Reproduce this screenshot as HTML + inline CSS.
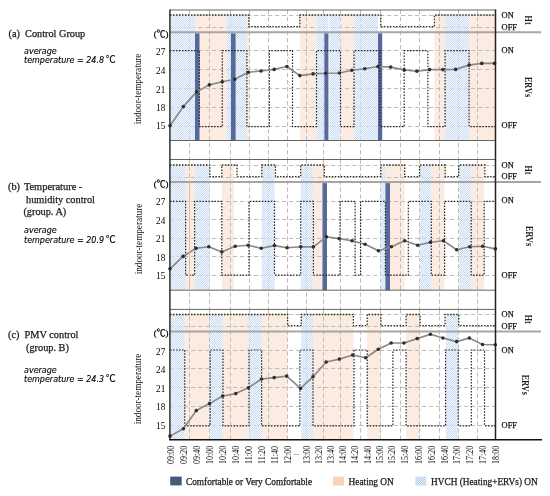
<!DOCTYPE html>
<html><head><meta charset="utf-8"><title>chart</title>
<style>html,body{margin:0;padding:0;background:#fff}body{width:550px;height:496px;position:relative;overflow:hidden}</style>
</head><body>
<svg width="550" height="496" viewBox="0 0 550 496" style="position:absolute;left:0;top:0">
<defs>
<pattern id="hatch" patternUnits="userSpaceOnUse" width="1.56" height="1.56" patternTransform="rotate(-45)">
<rect x="0" y="0" width="1.56" height="1.56" fill="#fbfdff"/>
<rect x="0" y="0" width="1.56" height="0.72" fill="#9fbfe8"/>
</pattern>
<pattern id="hatch2" patternUnits="userSpaceOnUse" width="1.56" height="1.56" patternTransform="rotate(-45)">
<rect x="0" y="0" width="1.56" height="1.56" fill="#fbfdff"/>
<rect x="0" y="0" width="1.56" height="0.72" fill="#7fa3da"/>
</pattern>
</defs>
<rect x="0" y="0" width="550" height="496" fill="#fff"/>
<defs><clipPath id="hclip"><rect x="170.0" y="15.0" width="25.0" height="125.5"/><rect x="226.5" y="15.0" width="20.5" height="125.5"/><rect x="316.5" y="15.0" width="11.9" height="125.5"/><rect x="329.4" y="15.0" width="11.1" height="125.5"/><rect x="354.0" y="15.0" width="24.0" height="125.5"/><rect x="445.1" y="15.0" width="24.0" height="125.5"/><rect x="170.0" y="165.0" width="15.6" height="125.2"/><rect x="194.6" y="165.0" width="15.2" height="125.2"/><rect x="261.8" y="165.0" width="12.7" height="125.2"/><rect x="300.7" y="165.0" width="12.1" height="125.2"/><rect x="380.8" y="165.0" width="4.6" height="125.2"/><rect x="419.8" y="165.0" width="11.5" height="125.2"/><rect x="459.1" y="165.0" width="12.1" height="125.2"/><rect x="170.0" y="314.5" width="14.7" height="125.4"/><rect x="210.2" y="314.5" width="12.4" height="125.4"/><rect x="249.0" y="314.5" width="12.6" height="125.4"/><rect x="301.3" y="314.5" width="11.7" height="125.4"/><rect x="445.9" y="314.5" width="12.3" height="125.4"/></clipPath><clipPath id="lclip"><rect x="415.3" y="476.5" width="11" height="9"/></clipPath></defs>
<rect x="195.0" y="15.0" width="31.5" height="125.5" fill="#fcebe0"/>
<rect x="247.0" y="15.0" width="2.5" height="125.5" fill="#fcebe0"/>
<rect x="299.8" y="15.0" width="16.7" height="125.5" fill="#fcebe0"/>
<rect x="340.5" y="15.0" width="13.5" height="125.5" fill="#fcebe0"/>
<rect x="434.4" y="15.0" width="10.7" height="125.5" fill="#fcebe0"/>
<rect x="469.1" y="15.0" width="26.4" height="125.5" fill="#fcebe0"/>
<line x1="170.0" x2="495.5" y1="15.5" y2="15.5" stroke="#bdbdbd" stroke-width="1" stroke-dasharray="4.3 2.7"/>
<line x1="170.0" x2="495.5" y1="27.5" y2="27.5" stroke="#bdbdbd" stroke-width="1" stroke-dasharray="4.3 2.7"/>
<line x1="170.0" x2="495.5" y1="50.5" y2="50.5" stroke="#bdbdbd" stroke-width="1" stroke-dasharray="4.3 2.7"/>
<line x1="170.0" x2="495.5" y1="69.5" y2="69.5" stroke="#bdbdbd" stroke-width="1" stroke-dasharray="4.3 2.7"/>
<line x1="170.0" x2="495.5" y1="88.5" y2="88.5" stroke="#bdbdbd" stroke-width="1" stroke-dasharray="4.3 2.7"/>
<line x1="170.0" x2="495.5" y1="107.5" y2="107.5" stroke="#bdbdbd" stroke-width="1" stroke-dasharray="4.3 2.7"/>
<line x1="170.0" x2="495.5" y1="126.5" y2="126.5" stroke="#bdbdbd" stroke-width="1" stroke-dasharray="4.3 2.7"/>
<line x1="189.5" x2="189.5" y1="10.0" y2="159.5" stroke="#bdbdbd" stroke-width="1" stroke-dasharray="4.3 2.7"/>
<line x1="209.5" x2="209.5" y1="10.0" y2="159.5" stroke="#bdbdbd" stroke-width="1" stroke-dasharray="4.3 2.7"/>
<line x1="230.5" x2="230.5" y1="10.0" y2="159.5" stroke="#bdbdbd" stroke-width="1" stroke-dasharray="4.3 2.7"/>
<line x1="249.5" x2="249.5" y1="10.0" y2="159.5" stroke="#bdbdbd" stroke-width="1" stroke-dasharray="4.3 2.7"/>
<line x1="268.5" x2="268.5" y1="10.0" y2="159.5" stroke="#bdbdbd" stroke-width="1" stroke-dasharray="4.3 2.7"/>
<line x1="287.5" x2="287.5" y1="10.0" y2="159.5" stroke="#bdbdbd" stroke-width="1" stroke-dasharray="4.3 2.7"/>
<line x1="306.5" x2="306.5" y1="10.0" y2="159.5" stroke="#bdbdbd" stroke-width="1" stroke-dasharray="4.3 2.7"/>
<line x1="323.5" x2="323.5" y1="10.0" y2="159.5" stroke="#bdbdbd" stroke-width="1" stroke-dasharray="4.3 2.7"/>
<line x1="340.5" x2="340.5" y1="10.0" y2="159.5" stroke="#bdbdbd" stroke-width="1" stroke-dasharray="4.3 2.7"/>
<line x1="360.5" x2="360.5" y1="10.0" y2="159.5" stroke="#bdbdbd" stroke-width="1" stroke-dasharray="4.3 2.7"/>
<line x1="380.5" x2="380.5" y1="10.0" y2="159.5" stroke="#bdbdbd" stroke-width="1" stroke-dasharray="4.3 2.7"/>
<line x1="400.5" x2="400.5" y1="10.0" y2="159.5" stroke="#bdbdbd" stroke-width="1" stroke-dasharray="4.3 2.7"/>
<line x1="419.5" x2="419.5" y1="10.0" y2="159.5" stroke="#bdbdbd" stroke-width="1" stroke-dasharray="4.3 2.7"/>
<line x1="439.5" x2="439.5" y1="10.0" y2="159.5" stroke="#bdbdbd" stroke-width="1" stroke-dasharray="4.3 2.7"/>
<line x1="458.5" x2="458.5" y1="10.0" y2="159.5" stroke="#bdbdbd" stroke-width="1" stroke-dasharray="4.3 2.7"/>
<line x1="477.5" x2="477.5" y1="10.0" y2="159.5" stroke="#bdbdbd" stroke-width="1" stroke-dasharray="4.3 2.7"/>
<rect x="185.6" y="165.0" width="9.0" height="125.2" fill="#fcebe0"/>
<rect x="221.8" y="165.0" width="12.1" height="125.2" fill="#fcebe0"/>
<rect x="312.8" y="165.0" width="11.5" height="125.2" fill="#fcebe0"/>
<rect x="385.4" y="165.0" width="19.3" height="125.2" fill="#fcebe0"/>
<rect x="431.3" y="165.0" width="13.3" height="125.2" fill="#fcebe0"/>
<rect x="471.2" y="165.0" width="13.0" height="125.2" fill="#fcebe0"/>
<line x1="170.0" x2="495.5" y1="165.5" y2="165.5" stroke="#bdbdbd" stroke-width="1" stroke-dasharray="4.3 2.7"/>
<line x1="170.0" x2="495.5" y1="177.5" y2="177.5" stroke="#bdbdbd" stroke-width="1" stroke-dasharray="4.3 2.7"/>
<line x1="170.0" x2="495.5" y1="201.5" y2="201.5" stroke="#bdbdbd" stroke-width="1" stroke-dasharray="4.3 2.7"/>
<line x1="170.0" x2="495.5" y1="219.5" y2="219.5" stroke="#bdbdbd" stroke-width="1" stroke-dasharray="4.3 2.7"/>
<line x1="170.0" x2="495.5" y1="238.5" y2="238.5" stroke="#bdbdbd" stroke-width="1" stroke-dasharray="4.3 2.7"/>
<line x1="170.0" x2="495.5" y1="256.5" y2="256.5" stroke="#bdbdbd" stroke-width="1" stroke-dasharray="4.3 2.7"/>
<line x1="170.0" x2="495.5" y1="275.5" y2="275.5" stroke="#bdbdbd" stroke-width="1" stroke-dasharray="4.3 2.7"/>
<line x1="189.5" x2="189.5" y1="159.5" y2="309.4" stroke="#bdbdbd" stroke-width="1" stroke-dasharray="4.3 2.7"/>
<line x1="209.5" x2="209.5" y1="159.5" y2="309.4" stroke="#bdbdbd" stroke-width="1" stroke-dasharray="4.3 2.7"/>
<line x1="230.5" x2="230.5" y1="159.5" y2="309.4" stroke="#bdbdbd" stroke-width="1" stroke-dasharray="4.3 2.7"/>
<line x1="249.5" x2="249.5" y1="159.5" y2="309.4" stroke="#bdbdbd" stroke-width="1" stroke-dasharray="4.3 2.7"/>
<line x1="268.5" x2="268.5" y1="159.5" y2="309.4" stroke="#bdbdbd" stroke-width="1" stroke-dasharray="4.3 2.7"/>
<line x1="287.5" x2="287.5" y1="159.5" y2="309.4" stroke="#bdbdbd" stroke-width="1" stroke-dasharray="4.3 2.7"/>
<line x1="306.5" x2="306.5" y1="159.5" y2="309.4" stroke="#bdbdbd" stroke-width="1" stroke-dasharray="4.3 2.7"/>
<line x1="323.5" x2="323.5" y1="159.5" y2="309.4" stroke="#bdbdbd" stroke-width="1" stroke-dasharray="4.3 2.7"/>
<line x1="340.5" x2="340.5" y1="159.5" y2="309.4" stroke="#bdbdbd" stroke-width="1" stroke-dasharray="4.3 2.7"/>
<line x1="360.5" x2="360.5" y1="159.5" y2="309.4" stroke="#bdbdbd" stroke-width="1" stroke-dasharray="4.3 2.7"/>
<line x1="380.5" x2="380.5" y1="159.5" y2="309.4" stroke="#bdbdbd" stroke-width="1" stroke-dasharray="4.3 2.7"/>
<line x1="400.5" x2="400.5" y1="159.5" y2="309.4" stroke="#bdbdbd" stroke-width="1" stroke-dasharray="4.3 2.7"/>
<line x1="419.5" x2="419.5" y1="159.5" y2="309.4" stroke="#bdbdbd" stroke-width="1" stroke-dasharray="4.3 2.7"/>
<line x1="439.5" x2="439.5" y1="159.5" y2="309.4" stroke="#bdbdbd" stroke-width="1" stroke-dasharray="4.3 2.7"/>
<line x1="458.5" x2="458.5" y1="159.5" y2="309.4" stroke="#bdbdbd" stroke-width="1" stroke-dasharray="4.3 2.7"/>
<line x1="477.5" x2="477.5" y1="159.5" y2="309.4" stroke="#bdbdbd" stroke-width="1" stroke-dasharray="4.3 2.7"/>
<rect x="184.7" y="314.5" width="25.5" height="125.4" fill="#fcebe0"/>
<rect x="222.6" y="314.5" width="26.4" height="125.4" fill="#fcebe0"/>
<rect x="261.6" y="314.5" width="26.0" height="125.4" fill="#fcebe0"/>
<rect x="313.0" y="314.5" width="40.4" height="125.4" fill="#fcebe0"/>
<rect x="367.2" y="314.5" width="13.7" height="125.4" fill="#fcebe0"/>
<rect x="406.1" y="314.5" width="14.0" height="125.4" fill="#fcebe0"/>
<line x1="170.0" x2="495.5" y1="314.5" y2="314.5" stroke="#bdbdbd" stroke-width="1" stroke-dasharray="4.3 2.7"/>
<line x1="170.0" x2="495.5" y1="326.5" y2="326.5" stroke="#bdbdbd" stroke-width="1" stroke-dasharray="4.3 2.7"/>
<line x1="170.0" x2="495.5" y1="350.5" y2="350.5" stroke="#bdbdbd" stroke-width="1" stroke-dasharray="4.3 2.7"/>
<line x1="170.0" x2="495.5" y1="368.5" y2="368.5" stroke="#bdbdbd" stroke-width="1" stroke-dasharray="4.3 2.7"/>
<line x1="170.0" x2="495.5" y1="387.5" y2="387.5" stroke="#bdbdbd" stroke-width="1" stroke-dasharray="4.3 2.7"/>
<line x1="170.0" x2="495.5" y1="406.5" y2="406.5" stroke="#bdbdbd" stroke-width="1" stroke-dasharray="4.3 2.7"/>
<line x1="170.0" x2="495.5" y1="425.5" y2="425.5" stroke="#bdbdbd" stroke-width="1" stroke-dasharray="4.3 2.7"/>
<line x1="189.5" x2="189.5" y1="309.4" y2="439.9" stroke="#bdbdbd" stroke-width="1" stroke-dasharray="4.3 2.7"/>
<line x1="209.5" x2="209.5" y1="309.4" y2="439.9" stroke="#bdbdbd" stroke-width="1" stroke-dasharray="4.3 2.7"/>
<line x1="230.5" x2="230.5" y1="309.4" y2="439.9" stroke="#bdbdbd" stroke-width="1" stroke-dasharray="4.3 2.7"/>
<line x1="249.5" x2="249.5" y1="309.4" y2="439.9" stroke="#bdbdbd" stroke-width="1" stroke-dasharray="4.3 2.7"/>
<line x1="268.5" x2="268.5" y1="309.4" y2="439.9" stroke="#bdbdbd" stroke-width="1" stroke-dasharray="4.3 2.7"/>
<line x1="287.5" x2="287.5" y1="309.4" y2="439.9" stroke="#bdbdbd" stroke-width="1" stroke-dasharray="4.3 2.7"/>
<line x1="306.5" x2="306.5" y1="309.4" y2="439.9" stroke="#bdbdbd" stroke-width="1" stroke-dasharray="4.3 2.7"/>
<line x1="323.5" x2="323.5" y1="309.4" y2="439.9" stroke="#bdbdbd" stroke-width="1" stroke-dasharray="4.3 2.7"/>
<line x1="340.5" x2="340.5" y1="309.4" y2="439.9" stroke="#bdbdbd" stroke-width="1" stroke-dasharray="4.3 2.7"/>
<line x1="360.5" x2="360.5" y1="309.4" y2="439.9" stroke="#bdbdbd" stroke-width="1" stroke-dasharray="4.3 2.7"/>
<line x1="380.5" x2="380.5" y1="309.4" y2="439.9" stroke="#bdbdbd" stroke-width="1" stroke-dasharray="4.3 2.7"/>
<line x1="400.5" x2="400.5" y1="309.4" y2="439.9" stroke="#bdbdbd" stroke-width="1" stroke-dasharray="4.3 2.7"/>
<line x1="419.5" x2="419.5" y1="309.4" y2="439.9" stroke="#bdbdbd" stroke-width="1" stroke-dasharray="4.3 2.7"/>
<line x1="439.5" x2="439.5" y1="309.4" y2="439.9" stroke="#bdbdbd" stroke-width="1" stroke-dasharray="4.3 2.7"/>
<line x1="458.5" x2="458.5" y1="309.4" y2="439.9" stroke="#bdbdbd" stroke-width="1" stroke-dasharray="4.3 2.7"/>
<line x1="477.5" x2="477.5" y1="309.4" y2="439.9" stroke="#bdbdbd" stroke-width="1" stroke-dasharray="4.3 2.7"/>
<g clip-path="url(#hclip)"><rect x="169" y="10" width="328" height="480" fill="#fcfdff" fill-opacity="0.6"/><path d="M-314.0,490l482,-482M-311.8,490l482,-482M-309.6,490l482,-482M-307.4,490l482,-482M-305.2,490l482,-482M-303.0,490l482,-482M-300.8,490l482,-482M-298.6,490l482,-482M-296.4,490l482,-482M-294.2,490l482,-482M-292.0,490l482,-482M-289.8,490l482,-482M-287.6,490l482,-482M-285.4,490l482,-482M-283.2,490l482,-482M-281.0,490l482,-482M-278.8,490l482,-482M-276.6,490l482,-482M-274.4,490l482,-482M-272.2,490l482,-482M-270.0,490l482,-482M-267.8,490l482,-482M-265.6,490l482,-482M-263.4,490l482,-482M-261.2,490l482,-482M-259.0,490l482,-482M-256.8,490l482,-482M-254.6,490l482,-482M-252.4,490l482,-482M-250.2,490l482,-482M-248.0,490l482,-482M-245.8,490l482,-482M-243.6,490l482,-482M-241.4,490l482,-482M-239.2,490l482,-482M-237.0,490l482,-482M-234.8,490l482,-482M-232.6,490l482,-482M-230.4,490l482,-482M-228.2,490l482,-482M-226.0,490l482,-482M-223.8,490l482,-482M-221.6,490l482,-482M-219.4,490l482,-482M-217.2,490l482,-482M-215.0,490l482,-482M-212.8,490l482,-482M-210.6,490l482,-482M-208.4,490l482,-482M-206.2,490l482,-482M-204.0,490l482,-482M-201.8,490l482,-482M-199.6,490l482,-482M-197.4,490l482,-482M-195.2,490l482,-482M-193.0,490l482,-482M-190.8,490l482,-482M-188.6,490l482,-482M-186.4,490l482,-482M-184.2,490l482,-482M-182.0,490l482,-482M-179.8,490l482,-482M-177.6,490l482,-482M-175.4,490l482,-482M-173.2,490l482,-482M-171.0,490l482,-482M-168.8,490l482,-482M-166.6,490l482,-482M-164.4,490l482,-482M-162.2,490l482,-482M-160.0,490l482,-482M-157.8,490l482,-482M-155.6,490l482,-482M-153.4,490l482,-482M-151.2,490l482,-482M-149.0,490l482,-482M-146.8,490l482,-482M-144.6,490l482,-482M-142.4,490l482,-482M-140.2,490l482,-482M-138.0,490l482,-482M-135.8,490l482,-482M-133.6,490l482,-482M-131.4,490l482,-482M-129.2,490l482,-482M-127.0,490l482,-482M-124.8,490l482,-482M-122.6,490l482,-482M-120.4,490l482,-482M-118.2,490l482,-482M-116.0,490l482,-482M-113.8,490l482,-482M-111.6,490l482,-482M-109.4,490l482,-482M-107.2,490l482,-482M-105.0,490l482,-482M-102.8,490l482,-482M-100.6,490l482,-482M-98.4,490l482,-482M-96.2,490l482,-482M-94.0,490l482,-482M-91.8,490l482,-482M-89.6,490l482,-482M-87.4,490l482,-482M-85.2,490l482,-482M-83.0,490l482,-482M-80.8,490l482,-482M-78.6,490l482,-482M-76.4,490l482,-482M-74.2,490l482,-482M-72.0,490l482,-482M-69.8,490l482,-482M-67.6,490l482,-482M-65.4,490l482,-482M-63.2,490l482,-482M-61.0,490l482,-482M-58.8,490l482,-482M-56.6,490l482,-482M-54.4,490l482,-482M-52.2,490l482,-482M-50.0,490l482,-482M-47.8,490l482,-482M-45.6,490l482,-482M-43.4,490l482,-482M-41.2,490l482,-482M-39.0,490l482,-482M-36.8,490l482,-482M-34.6,490l482,-482M-32.4,490l482,-482M-30.2,490l482,-482M-28.0,490l482,-482M-25.8,490l482,-482M-23.6,490l482,-482M-21.4,490l482,-482M-19.2,490l482,-482M-17.0,490l482,-482M-14.8,490l482,-482M-12.6,490l482,-482M-10.4,490l482,-482M-8.2,490l482,-482M-6.0,490l482,-482M-3.8,490l482,-482M-1.6,490l482,-482M0.6,490l482,-482M2.8,490l482,-482M5.0,490l482,-482M7.2,490l482,-482M9.4,490l482,-482M11.6,490l482,-482M13.8,490l482,-482M16.0,490l482,-482M18.2,490l482,-482M20.4,490l482,-482M22.6,490l482,-482M24.8,490l482,-482M27.0,490l482,-482M29.2,490l482,-482M31.4,490l482,-482M33.6,490l482,-482M35.8,490l482,-482M38.0,490l482,-482M40.2,490l482,-482M42.4,490l482,-482M44.6,490l482,-482M46.8,490l482,-482M49.0,490l482,-482M51.2,490l482,-482M53.4,490l482,-482M55.6,490l482,-482M57.8,490l482,-482M60.0,490l482,-482M62.2,490l482,-482M64.4,490l482,-482M66.6,490l482,-482M68.8,490l482,-482M71.0,490l482,-482M73.2,490l482,-482M75.4,490l482,-482M77.6,490l482,-482M79.8,490l482,-482M82.0,490l482,-482M84.2,490l482,-482M86.4,490l482,-482M88.6,490l482,-482M90.8,490l482,-482M93.0,490l482,-482M95.2,490l482,-482M97.4,490l482,-482M99.6,490l482,-482M101.8,490l482,-482M104.0,490l482,-482M106.2,490l482,-482M108.4,490l482,-482M110.6,490l482,-482M112.8,490l482,-482M115.0,490l482,-482M117.2,490l482,-482M119.4,490l482,-482M121.6,490l482,-482M123.8,490l482,-482M126.0,490l482,-482M128.2,490l482,-482M130.4,490l482,-482M132.6,490l482,-482M134.8,490l482,-482M137.0,490l482,-482M139.2,490l482,-482M141.4,490l482,-482M143.6,490l482,-482M145.8,490l482,-482M148.0,490l482,-482M150.2,490l482,-482M152.4,490l482,-482M154.6,490l482,-482M156.8,490l482,-482M159.0,490l482,-482M161.2,490l482,-482M163.4,490l482,-482M165.6,490l482,-482M167.8,490l482,-482M170.0,490l482,-482M172.2,490l482,-482M174.4,490l482,-482M176.6,490l482,-482M178.8,490l482,-482M181.0,490l482,-482M183.2,490l482,-482M185.4,490l482,-482M187.6,490l482,-482M189.8,490l482,-482M192.0,490l482,-482M194.2,490l482,-482M196.4,490l482,-482M198.6,490l482,-482M200.8,490l482,-482M203.0,490l482,-482M205.2,490l482,-482M207.4,490l482,-482M209.6,490l482,-482M211.8,490l482,-482M214.0,490l482,-482M216.2,490l482,-482M218.4,490l482,-482M220.6,490l482,-482M222.8,490l482,-482M225.0,490l482,-482M227.2,490l482,-482M229.4,490l482,-482M231.6,490l482,-482M233.8,490l482,-482M236.0,490l482,-482M238.2,490l482,-482M240.4,490l482,-482M242.6,490l482,-482M244.8,490l482,-482M247.0,490l482,-482M249.2,490l482,-482M251.4,490l482,-482M253.6,490l482,-482M255.8,490l482,-482M258.0,490l482,-482M260.2,490l482,-482M262.4,490l482,-482M264.6,490l482,-482M266.8,490l482,-482M269.0,490l482,-482M271.2,490l482,-482M273.4,490l482,-482M275.6,490l482,-482M277.8,490l482,-482M280.0,490l482,-482M282.2,490l482,-482M284.4,490l482,-482M286.6,490l482,-482M288.8,490l482,-482M291.0,490l482,-482M293.2,490l482,-482M295.4,490l482,-482M297.6,490l482,-482M299.8,490l482,-482M302.0,490l482,-482M304.2,490l482,-482M306.4,490l482,-482M308.6,490l482,-482M310.8,490l482,-482M313.0,490l482,-482M315.2,490l482,-482M317.4,490l482,-482M319.6,490l482,-482M321.8,490l482,-482M324.0,490l482,-482M326.2,490l482,-482M328.4,490l482,-482M330.6,490l482,-482M332.8,490l482,-482M335.0,490l482,-482M337.2,490l482,-482M339.4,490l482,-482M341.6,490l482,-482M343.8,490l482,-482M346.0,490l482,-482M348.2,490l482,-482M350.4,490l482,-482M352.6,490l482,-482M354.8,490l482,-482M357.0,490l482,-482M359.2,490l482,-482M361.4,490l482,-482M363.6,490l482,-482M365.8,490l482,-482M368.0,490l482,-482M370.2,490l482,-482M372.4,490l482,-482M374.6,490l482,-482M376.8,490l482,-482M379.0,490l482,-482M381.2,490l482,-482M383.4,490l482,-482M385.6,490l482,-482M387.8,490l482,-482M390.0,490l482,-482M392.2,490l482,-482M394.4,490l482,-482M396.6,490l482,-482M398.8,490l482,-482M401.0,490l482,-482M403.2,490l482,-482M405.4,490l482,-482M407.6,490l482,-482M409.8,490l482,-482M412.0,490l482,-482M414.2,490l482,-482M416.4,490l482,-482M418.6,490l482,-482M420.8,490l482,-482M423.0,490l482,-482M425.2,490l482,-482M427.4,490l482,-482M429.6,490l482,-482M431.8,490l482,-482M434.0,490l482,-482M436.2,490l482,-482M438.4,490l482,-482M440.6,490l482,-482M442.8,490l482,-482M445.0,490l482,-482M447.2,490l482,-482M449.4,490l482,-482M451.6,490l482,-482M453.8,490l482,-482M456.0,490l482,-482M458.2,490l482,-482M460.4,490l482,-482M462.6,490l482,-482M464.8,490l482,-482M467.0,490l482,-482M469.2,490l482,-482M471.4,490l482,-482M473.6,490l482,-482M475.8,490l482,-482M478.0,490l482,-482M480.2,490l482,-482M482.4,490l482,-482M484.6,490l482,-482M486.8,490l482,-482M489.0,490l482,-482M491.2,490l482,-482M493.4,490l482,-482M495.6,490l482,-482M497.8,490l482,-482M500.0,490l482,-482" stroke="#a0c0ea" stroke-width="0.7" fill="none"/></g>
<rect x="195.0" y="33.3" width="4.5" height="107.2" fill="#55699c"/>
<rect x="231.0" y="33.3" width="4.6" height="107.2" fill="#55699c"/>
<rect x="324.4" y="33.3" width="4.0" height="107.2" fill="#55699c"/>
<rect x="378.0" y="33.3" width="4.2" height="107.2" fill="#55699c"/>
<line x1="170.0" x2="541" y1="32.3" y2="32.3" stroke="#a6a6a6" stroke-width="2"/>
<line x1="170.0" x2="495.5" y1="10.0" y2="10.0" stroke="#555" stroke-width="0.9"/>
<line x1="170.0" x2="495.5" y1="140.5" y2="140.5" stroke="#555" stroke-width="0.9"/>
<path d="M170.0,15.0 H248.8 V26.7 H299.8 V15.0 H380.8 V26.7 H434.4 V15.0 H495.5" fill="none" stroke="#2f2c0a" stroke-width="1.3" stroke-dasharray="1.5 1.5"/>
<path d="M170.0,50.7 H199.4 V126.6 H222.3 V50.7 H246.9 V126.6 H269.4 V50.7 H292.5 V126.6 H316.5 V50.7 H340.5 V126.6 H354.0 V50.7 H380.0 V126.6 H404.2 V50.7 H427.9 V126.6 H445.1 V50.7 H469.1 V126.6 H495.5" fill="none" stroke="#222" stroke-width="1.2" stroke-dasharray="1.5 1.5"/>
<polyline points="170.0,125.8 183.3,106.6 196.6,91.9 209.3,84.9 222.3,81.8 234.7,79.2 248.3,72.2 261.0,71.0 274.2,69.4 286.9,66.5 299.8,75.6 313.1,73.9 325.8,73.3 339.4,73.0 351.8,70.2 364.8,68.8 378.0,66.5 390.7,67.1 404.2,69.9 416.9,71.3 429.6,69.6 442.9,69.6 455.6,69.4 469.1,65.1 481.8,63.4 494.5,63.4" fill="none" stroke="#898989" stroke-width="1.65" stroke-linejoin="round"/>
<circle cx="170.0" cy="125.8" r="1.8" fill="#2e2e2e"/>
<circle cx="183.3" cy="106.6" r="1.8" fill="#2e2e2e"/>
<circle cx="196.6" cy="91.9" r="1.8" fill="#2e2e2e"/>
<circle cx="209.3" cy="84.9" r="1.8" fill="#2e2e2e"/>
<circle cx="222.3" cy="81.8" r="1.8" fill="#2e2e2e"/>
<circle cx="234.7" cy="79.2" r="1.8" fill="#2e2e2e"/>
<circle cx="248.3" cy="72.2" r="1.8" fill="#2e2e2e"/>
<circle cx="261.0" cy="71.0" r="1.8" fill="#2e2e2e"/>
<circle cx="274.2" cy="69.4" r="1.8" fill="#2e2e2e"/>
<circle cx="286.9" cy="66.5" r="1.8" fill="#2e2e2e"/>
<circle cx="299.8" cy="75.6" r="1.8" fill="#2e2e2e"/>
<circle cx="313.1" cy="73.9" r="1.8" fill="#2e2e2e"/>
<circle cx="325.8" cy="73.3" r="1.8" fill="#2e2e2e"/>
<circle cx="339.4" cy="73.0" r="1.8" fill="#2e2e2e"/>
<circle cx="351.8" cy="70.2" r="1.8" fill="#2e2e2e"/>
<circle cx="364.8" cy="68.8" r="1.8" fill="#2e2e2e"/>
<circle cx="378.0" cy="66.5" r="1.8" fill="#2e2e2e"/>
<circle cx="390.7" cy="67.1" r="1.8" fill="#2e2e2e"/>
<circle cx="404.2" cy="69.9" r="1.8" fill="#2e2e2e"/>
<circle cx="416.9" cy="71.3" r="1.8" fill="#2e2e2e"/>
<circle cx="429.6" cy="69.6" r="1.8" fill="#2e2e2e"/>
<circle cx="442.9" cy="69.6" r="1.8" fill="#2e2e2e"/>
<circle cx="455.6" cy="69.4" r="1.8" fill="#2e2e2e"/>
<circle cx="469.1" cy="65.1" r="1.8" fill="#2e2e2e"/>
<circle cx="481.8" cy="63.4" r="1.8" fill="#2e2e2e"/>
<circle cx="494.5" cy="63.4" r="1.8" fill="#2e2e2e"/>
<rect x="322.5" y="183.1" width="4.5" height="107.1" fill="#55699c"/>
<rect x="385.4" y="183.1" width="4.6" height="107.1" fill="#55699c"/>
<line x1="170.0" x2="541" y1="182.1" y2="182.1" stroke="#a6a6a6" stroke-width="2"/>
<line x1="170.0" x2="495.5" y1="159.5" y2="159.5" stroke="#555" stroke-width="0.9"/>
<line x1="170.0" x2="495.5" y1="290.2" y2="290.2" stroke="#555" stroke-width="0.9"/>
<path d="M170.0,165.0 H209.8 V176.6 H221.8 V165.0 H237.0 V176.6 H261.8 V165.0 H275.4 V176.6 H300.7 V165.0 H324.3 V176.6 H380.8 V165.0 H404.7 V176.6 H419.6 V165.0 H445.2 V176.6 H458.7 V165.0 H484.8 V176.6 H495.5" fill="none" stroke="#2f2c0a" stroke-width="1.3" stroke-dasharray="1.5 1.5"/>
<path d="M170.0,201.3 H185.6 V275.1 H194.6 V201.3 H221.8 V275.1 H249.0 V201.3 H274.5 V275.1 H300.7 V201.3 H313.4 V275.1 H340.0 V201.3 H355.1 V275.1 H360.6 V201.3 H385.4 V275.1 H408.3 V201.3 H431.3 V275.1 H444.6 V201.3 H471.2 V275.1 H484.2 V201.3 H495.5" fill="none" stroke="#222" stroke-width="1.2" stroke-dasharray="1.5 1.5"/>
<polyline points="170.0,268.8 183.1,256.4 196.1,248.3 208.8,246.8 221.8,251.9 235.2,246.2 248.2,245.3 261.2,248.3 274.5,245.6 287.1,247.7 300.7,246.8 313.4,246.8 326.4,236.8 339.1,238.6 352.1,240.7 365.1,244.3 378.4,250.7 391.4,246.8 404.7,240.7 417.7,245.3 430.4,242.2 443.4,240.7 456.7,249.8 469.7,246.8 482.7,246.2 495.4,248.9" fill="none" stroke="#898989" stroke-width="1.65" stroke-linejoin="round"/>
<circle cx="170.0" cy="268.8" r="1.8" fill="#2e2e2e"/>
<circle cx="183.1" cy="256.4" r="1.8" fill="#2e2e2e"/>
<circle cx="196.1" cy="248.3" r="1.8" fill="#2e2e2e"/>
<circle cx="208.8" cy="246.8" r="1.8" fill="#2e2e2e"/>
<circle cx="221.8" cy="251.9" r="1.8" fill="#2e2e2e"/>
<circle cx="235.2" cy="246.2" r="1.8" fill="#2e2e2e"/>
<circle cx="248.2" cy="245.3" r="1.8" fill="#2e2e2e"/>
<circle cx="261.2" cy="248.3" r="1.8" fill="#2e2e2e"/>
<circle cx="274.5" cy="245.6" r="1.8" fill="#2e2e2e"/>
<circle cx="287.1" cy="247.7" r="1.8" fill="#2e2e2e"/>
<circle cx="300.7" cy="246.8" r="1.8" fill="#2e2e2e"/>
<circle cx="313.4" cy="246.8" r="1.8" fill="#2e2e2e"/>
<circle cx="326.4" cy="236.8" r="1.8" fill="#2e2e2e"/>
<circle cx="339.1" cy="238.6" r="1.8" fill="#2e2e2e"/>
<circle cx="352.1" cy="240.7" r="1.8" fill="#2e2e2e"/>
<circle cx="365.1" cy="244.3" r="1.8" fill="#2e2e2e"/>
<circle cx="378.4" cy="250.7" r="1.8" fill="#2e2e2e"/>
<circle cx="391.4" cy="246.8" r="1.8" fill="#2e2e2e"/>
<circle cx="404.7" cy="240.7" r="1.8" fill="#2e2e2e"/>
<circle cx="417.7" cy="245.3" r="1.8" fill="#2e2e2e"/>
<circle cx="430.4" cy="242.2" r="1.8" fill="#2e2e2e"/>
<circle cx="443.4" cy="240.7" r="1.8" fill="#2e2e2e"/>
<circle cx="456.7" cy="249.8" r="1.8" fill="#2e2e2e"/>
<circle cx="469.7" cy="246.8" r="1.8" fill="#2e2e2e"/>
<circle cx="482.7" cy="246.2" r="1.8" fill="#2e2e2e"/>
<circle cx="495.4" cy="248.9" r="1.8" fill="#2e2e2e"/>
<line x1="170.0" x2="541" y1="331.6" y2="331.6" stroke="#a6a6a6" stroke-width="2"/>
<line x1="170.0" x2="495.5" y1="309.4" y2="309.4" stroke="#555" stroke-width="0.9"/>
<path d="M170.0,314.5 H287.6 V325.6 H301.3 V314.5 H353.4 V325.6 H367.2 V314.5 H380.9 V325.6 H406.1 V314.5 H420.1 V325.6 H445.0 V314.5 H458.7 V325.6 H495.5" fill="none" stroke="#2f2c0a" stroke-width="1.3" stroke-dasharray="1.5 1.5"/>
<path d="M170.0,350.0 H184.7 V425.8 H210.2 V350.0 H223.0 V425.8 H249.0 V350.0 H261.6 V425.8 H299.9 V350.0 H313.0 V425.8 H354.0 V350.0 H367.2 V425.8 H392.9 V350.0 H406.1 V425.8 H445.6 V350.0 H458.2 V425.8 H471.3 V350.0 H484.5 V425.8 H495.5" fill="none" stroke="#222" stroke-width="1.2" stroke-dasharray="1.5 1.5"/>
<polyline points="170.0,436.1 183.4,428.8 196.3,410.6 209.5,403.6 222.7,396.0 235.8,393.6 248.4,387.8 261.6,379.0 274.2,377.6 286.7,376.1 300.5,388.4 313.0,376.7 326.2,362.0 339.4,359.1 352.6,355.0 365.7,357.7 378.3,349.2 391.2,343.0 404.0,343.0 417.2,338.6 430.4,334.2 442.9,338.0 456.7,341.6 469.3,338.0 482.5,344.5 495.3,344.8" fill="none" stroke="#898989" stroke-width="1.65" stroke-linejoin="round"/>
<circle cx="170.0" cy="436.1" r="1.8" fill="#2e2e2e"/>
<circle cx="183.4" cy="428.8" r="1.8" fill="#2e2e2e"/>
<circle cx="196.3" cy="410.6" r="1.8" fill="#2e2e2e"/>
<circle cx="209.5" cy="403.6" r="1.8" fill="#2e2e2e"/>
<circle cx="222.7" cy="396.0" r="1.8" fill="#2e2e2e"/>
<circle cx="235.8" cy="393.6" r="1.8" fill="#2e2e2e"/>
<circle cx="248.4" cy="387.8" r="1.8" fill="#2e2e2e"/>
<circle cx="261.6" cy="379.0" r="1.8" fill="#2e2e2e"/>
<circle cx="274.2" cy="377.6" r="1.8" fill="#2e2e2e"/>
<circle cx="286.7" cy="376.1" r="1.8" fill="#2e2e2e"/>
<circle cx="300.5" cy="388.4" r="1.8" fill="#2e2e2e"/>
<circle cx="313.0" cy="376.7" r="1.8" fill="#2e2e2e"/>
<circle cx="326.2" cy="362.0" r="1.8" fill="#2e2e2e"/>
<circle cx="339.4" cy="359.1" r="1.8" fill="#2e2e2e"/>
<circle cx="352.6" cy="355.0" r="1.8" fill="#2e2e2e"/>
<circle cx="365.7" cy="357.7" r="1.8" fill="#2e2e2e"/>
<circle cx="378.3" cy="349.2" r="1.8" fill="#2e2e2e"/>
<circle cx="391.2" cy="343.0" r="1.8" fill="#2e2e2e"/>
<circle cx="404.0" cy="343.0" r="1.8" fill="#2e2e2e"/>
<circle cx="417.2" cy="338.6" r="1.8" fill="#2e2e2e"/>
<circle cx="430.4" cy="334.2" r="1.8" fill="#2e2e2e"/>
<circle cx="442.9" cy="338.0" r="1.8" fill="#2e2e2e"/>
<circle cx="456.7" cy="341.6" r="1.8" fill="#2e2e2e"/>
<circle cx="469.3" cy="338.0" r="1.8" fill="#2e2e2e"/>
<circle cx="482.5" cy="344.5" r="1.8" fill="#2e2e2e"/>
<circle cx="495.3" cy="344.8" r="1.8" fill="#2e2e2e"/>
<line x1="189.5" x2="189.5" y1="183" y2="290" stroke="#c9c3bd" stroke-width="1"/>
<line x1="169.9" x2="169.9" y1="9.5" y2="439.9" stroke="#222" stroke-width="1.4"/>
<line x1="495.5" x2="495.5" y1="9.5" y2="439.9" stroke="#222" stroke-width="1.5"/>
<line x1="169.2" x2="542" y1="439.7" y2="439.7" stroke="#111" stroke-width="1.6"/>
<text x="501.6" y="18.3" font-size="8.4" font-family="Liberation Serif, serif" fill="#111" stroke="#111" stroke-width="0.25" >ON</text>
<text x="501.6" y="29.6" font-size="8.4" font-family="Liberation Serif, serif" fill="#111" stroke="#111" stroke-width="0.25" >OFF</text>
<text x="501.6" y="53.4" font-size="8.4" font-family="Liberation Serif, serif" fill="#111" stroke="#111" stroke-width="0.25" >ON</text>
<text x="501.6" y="128.0" font-size="8.4" font-family="Liberation Serif, serif" fill="#111" stroke="#111" stroke-width="0.25" >OFF</text>
<text transform="translate(525.2,20.2) rotate(90) scale(0.84,1)" text-anchor="middle" font-size="9.8" font-weight="bold" font-family="Liberation Serif, serif" fill="#1a1a1a">Ht</text>
<text transform="translate(525.2,87.0) rotate(90) scale(0.83,1)" text-anchor="middle" font-size="9.9" font-weight="bold" font-family="Liberation Serif, serif" fill="#1a1a1a">ERVs</text>
<text transform="translate(165.3,55.05) scale(0.95,1)" text-anchor="end" font-size="9.7" font-family="Liberation Serif, serif" fill="#000">27</text>
<text transform="translate(165.3,74.15) scale(0.95,1)" text-anchor="end" font-size="9.7" font-family="Liberation Serif, serif" fill="#000">24</text>
<text transform="translate(165.3,92.65) scale(0.95,1)" text-anchor="end" font-size="9.7" font-family="Liberation Serif, serif" fill="#000">21</text>
<text transform="translate(165.3,111.25) scale(0.95,1)" text-anchor="end" font-size="9.7" font-family="Liberation Serif, serif" fill="#000">18</text>
<text transform="translate(165.3,129.25) scale(0.95,1)" text-anchor="end" font-size="9.7" font-family="Liberation Serif, serif" fill="#000">15</text>
<text x="153.8" y="36.9" font-size="8.8" font-family="Liberation Serif, Noto Sans CJK JP, serif" fill="#000" stroke="#000" stroke-width="0.25" >(℃)</text>
<text transform="translate(140.7,88.9) rotate(-90) scale(0.85,1)" text-anchor="middle" font-size="10.8" font-family="Liberation Serif, serif" fill="#111">indoor-temperature</text>
<text x="501.6" y="168.0" font-size="8.4" font-family="Liberation Serif, serif" fill="#111" stroke="#111" stroke-width="0.25" >ON</text>
<text x="501.6" y="178.60000000000002" font-size="8.4" font-family="Liberation Serif, serif" fill="#111" stroke="#111" stroke-width="0.25" >OFF</text>
<text x="501.6" y="202.8" font-size="8.4" font-family="Liberation Serif, serif" fill="#111" stroke="#111" stroke-width="0.25" >ON</text>
<text x="501.6" y="277.6" font-size="8.4" font-family="Liberation Serif, serif" fill="#111" stroke="#111" stroke-width="0.25" >OFF</text>
<text transform="translate(525.3,170.0) rotate(90) scale(0.84,1)" text-anchor="middle" font-size="9.8" font-weight="bold" font-family="Liberation Serif, serif" fill="#1a1a1a">Ht</text>
<text transform="translate(526.2,236.1) rotate(90) scale(0.83,1)" text-anchor="middle" font-size="9.9" font-weight="bold" font-family="Liberation Serif, serif" fill="#1a1a1a">ERVs</text>
<text transform="translate(165.3,204.95) scale(0.95,1)" text-anchor="end" font-size="9.7" font-family="Liberation Serif, serif" fill="#000">27</text>
<text transform="translate(165.3,223.75) scale(0.95,1)" text-anchor="end" font-size="9.7" font-family="Liberation Serif, serif" fill="#000">24</text>
<text transform="translate(165.3,242.15) scale(0.95,1)" text-anchor="end" font-size="9.7" font-family="Liberation Serif, serif" fill="#000">21</text>
<text transform="translate(165.3,261.25) scale(0.95,1)" text-anchor="end" font-size="9.7" font-family="Liberation Serif, serif" fill="#000">18</text>
<text transform="translate(165.3,279.25) scale(0.95,1)" text-anchor="end" font-size="9.7" font-family="Liberation Serif, serif" fill="#000">15</text>
<text x="153.8" y="186.7" font-size="8.8" font-family="Liberation Serif, Noto Sans CJK JP, serif" fill="#000" stroke="#000" stroke-width="0.25" >(℃)</text>
<text transform="translate(141.7,239.0) rotate(-90) scale(0.85,1)" text-anchor="middle" font-size="10.8" font-family="Liberation Serif, serif" fill="#111">indoor-temperature</text>
<text x="501.6" y="317.3" font-size="8.4" font-family="Liberation Serif, serif" fill="#111" stroke="#111" stroke-width="0.25" >ON</text>
<text x="501.6" y="328.6" font-size="8.4" font-family="Liberation Serif, serif" fill="#111" stroke="#111" stroke-width="0.25" >OFF</text>
<text x="501.6" y="352.8" font-size="8.4" font-family="Liberation Serif, serif" fill="#111" stroke="#111" stroke-width="0.25" >ON</text>
<text x="501.6" y="427.6" font-size="8.4" font-family="Liberation Serif, serif" fill="#111" stroke="#111" stroke-width="0.25" >OFF</text>
<text transform="translate(525.3,319.3) rotate(90) scale(0.84,1)" text-anchor="middle" font-size="9.8" font-weight="bold" font-family="Liberation Serif, serif" fill="#1a1a1a">Ht</text>
<text transform="translate(522.4,384.8) rotate(90) scale(0.83,1)" text-anchor="middle" font-size="9.9" font-weight="bold" font-family="Liberation Serif, serif" fill="#1a1a1a">ERVs</text>
<text transform="translate(165.3,354.65) scale(0.95,1)" text-anchor="end" font-size="9.7" font-family="Liberation Serif, serif" fill="#000">27</text>
<text transform="translate(165.3,373.05) scale(0.95,1)" text-anchor="end" font-size="9.7" font-family="Liberation Serif, serif" fill="#000">24</text>
<text transform="translate(165.3,391.55) scale(0.95,1)" text-anchor="end" font-size="9.7" font-family="Liberation Serif, serif" fill="#000">21</text>
<text transform="translate(165.3,410.25) scale(0.95,1)" text-anchor="end" font-size="9.7" font-family="Liberation Serif, serif" fill="#000">18</text>
<text transform="translate(165.3,428.85) scale(0.95,1)" text-anchor="end" font-size="9.7" font-family="Liberation Serif, serif" fill="#000">15</text>
<text x="153.8" y="336.20000000000005" font-size="8.8" font-family="Liberation Serif, Noto Sans CJK JP, serif" fill="#000" stroke="#000" stroke-width="0.25" >(℃)</text>
<text transform="translate(140.9,389.0) rotate(-90) scale(0.85,1)" text-anchor="middle" font-size="10.8" font-family="Liberation Serif, serif" fill="#111">indoor-temperature</text>
<text x="8.6" y="37.1" font-size="10.25" font-family="Liberation Serif, serif" fill="#1a1a1a" stroke="#1a1a1a" stroke-width="0.25" >(a)&#160; Control Group</text>
<text x="8" y="190.1" font-size="10.3" font-family="Liberation Serif, serif" fill="#1a1a1a" stroke="#1a1a1a" stroke-width="0.25" >(b)</text>
<text x="23.9" y="190.1" font-size="10.4" font-family="Liberation Serif, serif" fill="#1a1a1a" stroke="#1a1a1a" stroke-width="0.25" >Temperature -</text>
<text x="26" y="202.5" font-size="10.3" font-family="Liberation Serif, serif" fill="#1a1a1a" stroke="#1a1a1a" stroke-width="0.25" >humidity control</text>
<text x="23.4" y="214.7" font-size="10.3" font-family="Liberation Serif, serif" fill="#1a1a1a" stroke="#1a1a1a" stroke-width="0.25" >(group. A)</text>
<text x="8" y="337.8" font-size="10.3" font-family="Liberation Serif, serif" fill="#1a1a1a" stroke="#1a1a1a" stroke-width="0.25" >(c)&#160; PMV control</text>
<text x="26" y="351.1" font-size="10.3" font-family="Liberation Serif, serif" fill="#1a1a1a" stroke="#1a1a1a" stroke-width="0.25" >(group. B)</text>
<text x="24" y="53.5" font-size="8.0" font-family="DejaVu Sans, Noto Sans CJK JP, sans-serif" font-style="italic" fill="#000" stroke="#000" stroke-width="0.12">average</text>
<text x="24" y="62.8" font-size="8.0" font-family="DejaVu Sans, Noto Sans CJK JP, sans-serif" font-style="italic" fill="#000" stroke="#000" stroke-width="0.12">temperature = 24.8<tspan dx="1.8" font-style="normal" font-size="10" font-family="Noto Sans CJK JP">℃</tspan></text>
<text x="24" y="233.2" font-size="8.0" font-family="DejaVu Sans, Noto Sans CJK JP, sans-serif" font-style="italic" fill="#000" stroke="#000" stroke-width="0.12">average</text>
<text x="24" y="242.5" font-size="8.0" font-family="DejaVu Sans, Noto Sans CJK JP, sans-serif" font-style="italic" fill="#000" stroke="#000" stroke-width="0.12">temperature = 20.9<tspan dx="1.8" font-style="normal" font-size="10" font-family="Noto Sans CJK JP">℃</tspan></text>
<text x="24" y="372.5" font-size="8.0" font-family="DejaVu Sans, Noto Sans CJK JP, sans-serif" font-style="italic" fill="#000" stroke="#000" stroke-width="0.12">average</text>
<text x="24" y="381.8" font-size="8.0" font-family="DejaVu Sans, Noto Sans CJK JP, sans-serif" font-style="italic" fill="#000" stroke="#000" stroke-width="0.12">temperature = 24.3<tspan dx="1.8" font-style="normal" font-size="10" font-family="Noto Sans CJK JP">℃</tspan></text>
<text transform="translate(173.9,464.0) rotate(-90) scale(0.815,1)" font-size="9.8" font-family="Liberation Serif, serif" fill="#111">09:00</text>
<text transform="translate(186.9,464.0) rotate(-90) scale(0.815,1)" font-size="9.8" font-family="Liberation Serif, serif" fill="#111">09:20</text>
<text transform="translate(199.9,464.0) rotate(-90) scale(0.815,1)" font-size="9.8" font-family="Liberation Serif, serif" fill="#111">09:40</text>
<text transform="translate(212.9,464.0) rotate(-90) scale(0.815,1)" font-size="9.8" font-family="Liberation Serif, serif" fill="#111">10:00</text>
<text transform="translate(225.9,464.0) rotate(-90) scale(0.815,1)" font-size="9.8" font-family="Liberation Serif, serif" fill="#111">10:20</text>
<text transform="translate(238.9,464.0) rotate(-90) scale(0.815,1)" font-size="9.8" font-family="Liberation Serif, serif" fill="#111">10:40</text>
<text transform="translate(251.9,464.0) rotate(-90) scale(0.815,1)" font-size="9.8" font-family="Liberation Serif, serif" fill="#111">11:00</text>
<text transform="translate(264.9,464.0) rotate(-90) scale(0.815,1)" font-size="9.8" font-family="Liberation Serif, serif" fill="#111">11:20</text>
<text transform="translate(277.9,464.0) rotate(-90) scale(0.815,1)" font-size="9.8" font-family="Liberation Serif, serif" fill="#111">11:40</text>
<text transform="translate(290.9,464.0) rotate(-90) scale(0.815,1)" font-size="9.8" font-family="Liberation Serif, serif" fill="#111">12:00</text>
<text transform="translate(310.0,464.0) rotate(-90) scale(0.815,1)" font-size="9.8" font-family="Liberation Serif, serif" fill="#111">13:00</text>
<text transform="translate(322.2,464.0) rotate(-90) scale(0.815,1)" font-size="9.8" font-family="Liberation Serif, serif" fill="#111">13:20</text>
<text transform="translate(334.4,464.0) rotate(-90) scale(0.815,1)" font-size="9.8" font-family="Liberation Serif, serif" fill="#111">13:40</text>
<text transform="translate(346.2,464.0) rotate(-90) scale(0.815,1)" font-size="9.8" font-family="Liberation Serif, serif" fill="#111">14:00</text>
<text transform="translate(358.2,464.0) rotate(-90) scale(0.815,1)" font-size="9.8" font-family="Liberation Serif, serif" fill="#111">14:20</text>
<text transform="translate(370.7,464.0) rotate(-90) scale(0.815,1)" font-size="9.8" font-family="Liberation Serif, serif" fill="#111">14:40</text>
<text transform="translate(382.8,464.0) rotate(-90) scale(0.815,1)" font-size="9.8" font-family="Liberation Serif, serif" fill="#111">15:00</text>
<text transform="translate(395.2,464.0) rotate(-90) scale(0.815,1)" font-size="9.8" font-family="Liberation Serif, serif" fill="#111">15:20</text>
<text transform="translate(407.7,464.0) rotate(-90) scale(0.815,1)" font-size="9.8" font-family="Liberation Serif, serif" fill="#111">15:40</text>
<text transform="translate(422.4,464.0) rotate(-90) scale(0.815,1)" font-size="9.8" font-family="Liberation Serif, serif" fill="#111">16:00</text>
<text transform="translate(434.9,464.0) rotate(-90) scale(0.815,1)" font-size="9.8" font-family="Liberation Serif, serif" fill="#111">16:20</text>
<text transform="translate(447.7,464.0) rotate(-90) scale(0.815,1)" font-size="9.8" font-family="Liberation Serif, serif" fill="#111">16:40</text>
<text transform="translate(460.2,464.0) rotate(-90) scale(0.815,1)" font-size="9.8" font-family="Liberation Serif, serif" fill="#111">17:00</text>
<text transform="translate(472.8,464.0) rotate(-90) scale(0.815,1)" font-size="9.8" font-family="Liberation Serif, serif" fill="#111">17:20</text>
<text transform="translate(485.5,464.0) rotate(-90) scale(0.815,1)" font-size="9.8" font-family="Liberation Serif, serif" fill="#111">17:40</text>
<text transform="translate(498.5,464.0) rotate(-90) scale(0.815,1)" font-size="9.8" font-family="Liberation Serif, serif" fill="#111">18:00</text>
<text x="293.3" y="457.0" font-size="12" font-family="Liberation Serif, serif" fill="#9a9a9a">–</text>
<rect x="170.2" y="476.6" width="11.5" height="8.8" fill="#475a7d"/>
<text x="186" y="484.6" font-size="9.3" font-family="Liberation Serif, serif" fill="#1a1a1a" stroke="#1a1a1a" stroke-width="0.25" >Comfortable or Very Comfortable</text>
<rect x="333" y="476.5" width="11" height="9" fill="#f9d3b9"/>
<text x="348.6" y="484.6" font-size="9.3" font-family="Liberation Serif, serif" fill="#1a1a1a" stroke="#1a1a1a" stroke-width="0.25" >Heating ON</text>
<g clip-path="url(#lclip)"><rect x="415" y="475" width="12" height="11" fill="#fff"/><path d="M390.0,490l20,-20M392.2,490l20,-20M394.4,490l20,-20M396.6,490l20,-20M398.8,490l20,-20M401.0,490l20,-20M403.2,490l20,-20M405.4,490l20,-20M407.6,490l20,-20M409.8,490l20,-20M412.0,490l20,-20M414.2,490l20,-20M416.4,490l20,-20M418.6,490l20,-20M420.8,490l20,-20M423.0,490l20,-20M425.2,490l20,-20M427.4,490l20,-20M429.6,490l20,-20" stroke="#7fa3da" stroke-width="0.8" fill="none"/></g>
<text x="431" y="484.6" font-size="9.3" font-family="Liberation Serif, serif" fill="#1a1a1a" stroke="#1a1a1a" stroke-width="0.25" >HVCH (Heating+ERVs) ON</text>
</svg>
</body></html>
